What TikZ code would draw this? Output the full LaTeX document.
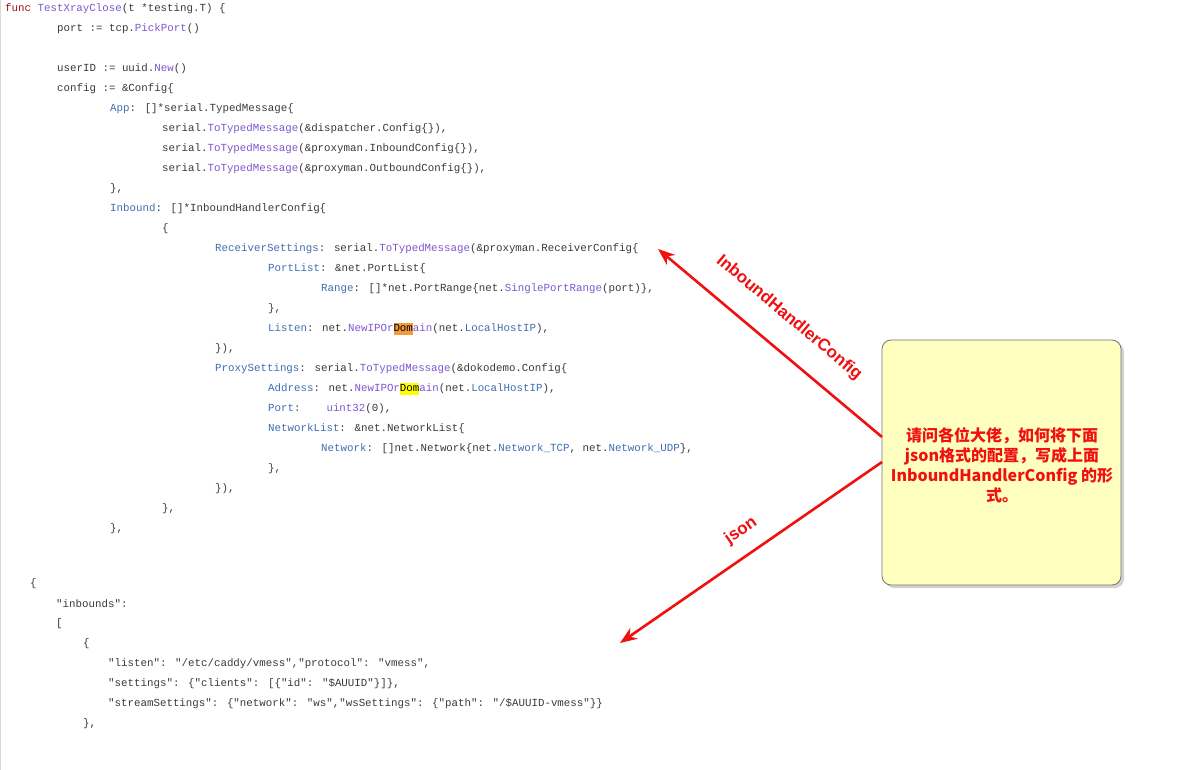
\documentclass[tikz,border=0pt]{standalone}
\usepackage{fontspec}
\newfontfamily\codefont{Liberation Mono}
\newfontfamily\labfont{Liberation Sans}
\newfontfamily\cjk{Noto Sans CJK SC}
\usetikzlibrary{shadows,arrows.meta}
\definecolor{codetxt}{HTML}{3A3A3A}
\definecolor{kwc}{HTML}{A31515}
\definecolor{fnc}{HTML}{7E57D0}
\definecolor{fdc}{HTML}{3F6FB0}
\definecolor{hlo}{HTML}{F39A3C}
\definecolor{hly}{HTML}{FFFF00}
\definecolor{notefill}{HTML}{FFFFBF}
\definecolor{arr}{HTML}{F01010}
\newcommand{\kwd}[1]{\textcolor{kwc}{#1}}
\newcommand{\fnn}[1]{\textcolor{fnc}{#1}}
\newcommand{\fdd}[1]{\textcolor{fdc}{#1}}
\newcommand{\hlbox}[2]{{\setlength{\fboxsep}{0pt}\colorbox{#1}{\strut\textcolor{black}{#2}}}}
\tikzset{
  codeline/.style={anchor=west,inner sep=0pt,font=\codefont\fontsize{10.8}{12}\selectfont,text=codetxt},
  notebox/.style={draw=black!55,fill=notefill,rounded corners=9pt,line width=0.8pt,drop shadow={shadow xshift=3pt,shadow yshift=-3pt,opacity=0.35}},
  redarrow/.style={draw=arr,line width=2.6pt,-{Stealth[length=17pt,width=13pt]}},
  arrlab/.style={font=\labfont\bfseries\fontsize{17}{19}\selectfont,inner sep=0pt,text=arr}
}
\begin{document}
\begin{tikzpicture}[x=1pt,y=-1pt]
\useasboundingbox[fill=white] (0,0) rectangle (1191,770);
\draw[color=black!15,line width=1pt] (0.5,0) -- (0.5,770);
% code
\node[codeline] (l0) at (5,9) {\kwd{func} \fnn{TestXrayClose}(t *testing.T) \{};
\node[codeline] (l1) at (57,29) {port := tcp.\fnn{PickPort}()};
\node[codeline] (l3) at (57,69) {userID := uuid.\fnn{New}()};
\node[codeline] (l4) at (57,89) {config := \&Config\{};
\node[codeline] (l5) at (110,109) {\fdd{App}: []*serial.TypedMessage\{};
\node[codeline] (l6) at (162,129) {serial.\fnn{ToTypedMessage}(\&dispatcher.Config\{\}),};
\node[codeline] (l7) at (162,149) {serial.\fnn{ToTypedMessage}(\&proxyman.InboundConfig\{\}),};
\node[codeline] (l8) at (162,169) {serial.\fnn{ToTypedMessage}(\&proxyman.OutboundConfig\{\}),};
\node[codeline] (l9) at (110,189) {\},};
\node[codeline] (l10) at (110,209) {\fdd{Inbound}: []*InboundHandlerConfig\{};
\node[codeline] (l11) at (162,229) {\{};
\node[codeline] (l12) at (215,249) {\fdd{ReceiverSettings}: serial.\fnn{ToTypedMessage}(\&proxyman.ReceiverConfig\{};
\node[codeline] (l13) at (268,269) {\fdd{PortList}: \&net.PortList\{};
\node[codeline] (l14) at (321,289) {\fdd{Range}: []*net.PortRange\{net.\fnn{SinglePortRange}(port)\},};
\node[codeline] (l15) at (268,309) {\},};
\node[codeline] (l16) at (268,329) {\fdd{Listen}: net.\fnn{NewIPOr}\hlbox{hlo}{Dom}\fnn{ain}(net.\fdd{LocalHostIP}),};
\node[codeline] (l17) at (215,349) {\}),};
\node[codeline] (l18) at (215,369) {\fdd{ProxySettings}: serial.\fnn{ToTypedMessage}(\&dokodemo.Config\{};
\node[codeline] (l19) at (268,389) {\fdd{Address}: net.\fnn{NewIPOr}\hlbox{hly}{Dom}\fnn{ain}(net.\fdd{LocalHostIP}),};
\node[codeline] (l20) at (268,409) {\fdd{Port}:\ \ \ \ \fnn{uint32}(0),};
\node[codeline] (l21) at (268,429) {\fdd{NetworkList}: \&net.NetworkList\{};
\node[codeline] (l22) at (321,449) {\fdd{Network}: []net.Network\{net.\fdd{Network\_TCP}, net.\fdd{Network\_UDP}\},};
\node[codeline] (l23) at (268,469) {\},};
\node[codeline] (l24) at (215,489) {\}),};
\node[codeline] (l25) at (162,509) {\},};
\node[codeline] (l26) at (110,529) {\},};
% json
\node[codeline] (j0) at (30,584) {\{};
\node[codeline] (j1) at (56,604) {"inbounds":};
\node[codeline] (j2) at (56,624) {[};
\node[codeline] (j3) at (83,644) {\{};
\node[codeline] (j4) at (108,664) {"listen": "/etc/caddy/vmess","protocol": "vmess",};
\node[codeline] (j5) at (108,684) {"settings": \{"clients": [\{"id": "\$AUUID"\}]\},};
\node[codeline] (j6) at (108,704) {"streamSettings": \{"network": "ws","wsSettings": \{"path": "/\$AUUID-vmess"\}\}};
\node[codeline] (j7) at (83,724) {\},};
% note
\path[notebox] (882,340) rectangle (1121,585);
\node[align=center,text=arr,font=\cjk\bfseries\fontsize{16}{20}\selectfont,inner sep=0pt] (notetxt) at (1002,465)
 {请问各位大佬，如何将下面\\json格式的配置，写成上面\\InboundHandlerConfig 的形\\式。};
\coordinate (s1) at (882,437);
\coordinate (t1) at (658,249);
\coordinate (s2) at (882,462);
\coordinate (t2) at (620,643);
\draw[redarrow] (s1) -- (t1);
\draw[redarrow] (s2) -- (t2);
\node[arrlab,rotate=-40] (lab1) at (789,318) {InboundHandlerConfig};
\node[arrlab,rotate=35] (lab2) at (741,531) {json};
\end{tikzpicture}
\end{document}
